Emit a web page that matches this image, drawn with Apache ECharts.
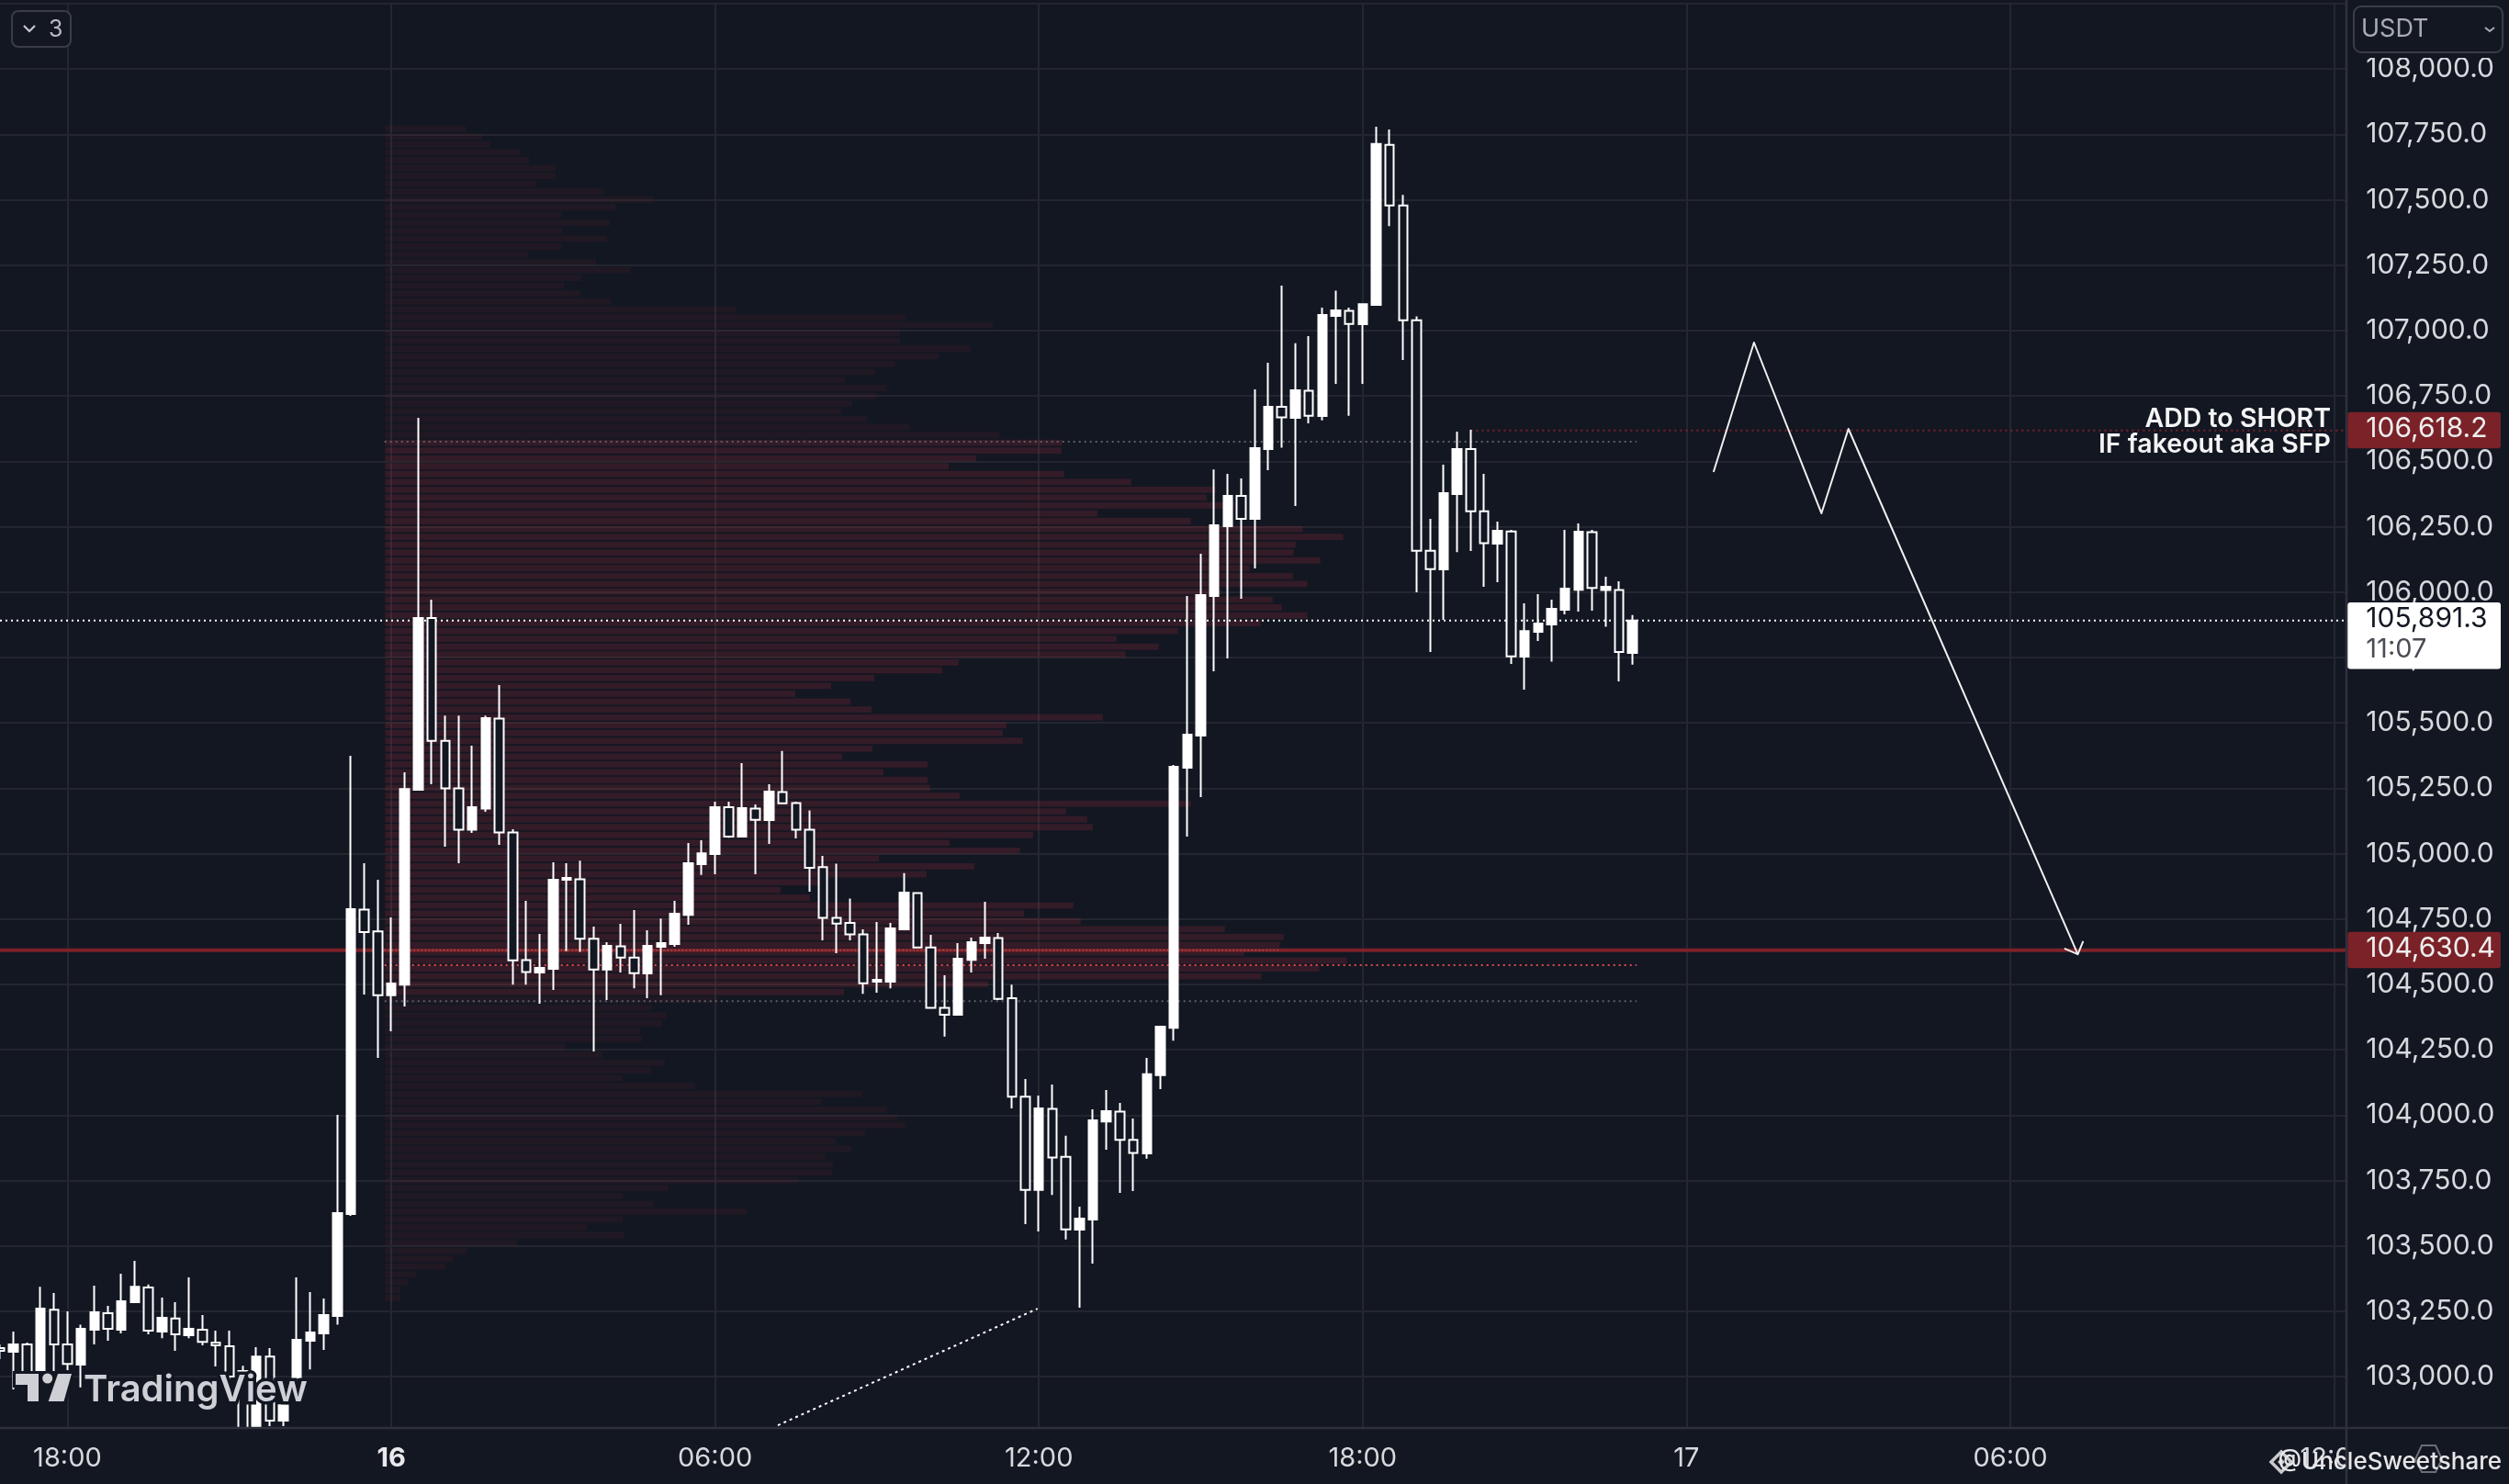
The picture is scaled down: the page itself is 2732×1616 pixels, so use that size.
<!DOCTYPE html>
<html><head><meta charset="utf-8"><title>BTCUSDT</title>
<style>html,body{margin:0;padding:0;background:#131722}#c{width:2732px;height:1616px}</style>
<script src="https://cdn.jsdelivr.net/npm/echarts@6/dist/echarts.min.js"></script>
</head><body><div id="c"></div>
<script>
const openPrice=[103109,103095,103123,103025,103256,103123,103046,103179,103243,103179,103285,103341,103172,103222,103158,103179,103130,103116,103021,102793,103077,102832,102997,103137,103165,103232,103622,104786,104702,104458,104499,105244,105901,105431,105249,105091,105172,105516,105081,104593,104545,104559,104907,104902,104674,104557,104645,104602,104542,104644,104654,104766,104960,104998,105177,105065,105172,105128,105235,105193,105091,104948,104754,104735,104691,104517,104510,104710,104849,104641,104410,104384,104594,104658,104677,104447,104070,103714,104024,103840,103562,103601,103976,104013,103905,103854,104153,104334,105328,105451,105985,106252,106368,106280,106547,106708,106666,106770,106673,107056,107075,107024,107098,107710,107478,107039,106158,106087,106375,106547,106309,106185,106232,105753,105848,105876,105932,106009,106229,106008,106008,105767];
const closePrice=[103099,103123,103018,103260,103123,103049,103183,103246,103183,103288,103344,103176,103225,103162,103183,103133,103120,103000,102779,103077,102832,102891,103141,103169,103236,103625,104788,104700,104458,104503,105247,105901,105431,105249,105091,105177,105518,105081,104592,104547,104563,104900,104900,104674,104557,104647,104602,104543,104647,104658,104770,104963,105001,105177,105065,105174,105129,105237,105192,105091,104946,104754,104732,104691,104504,104510,104714,104851,104641,104410,104384,104598,104661,104679,104444,104070,103714,104026,103838,103563,103604,103980,104015,103905,103855,104156,104338,105332,105455,105988,106255,106368,106280,106550,106708,106668,106771,106674,107059,107077,107025,107101,107713,107478,107039,106158,106088,106378,106547,106309,106187,106234,105754,105851,105880,105936,106013,106231,106016,106020,105771,105891.3];
const lowPrice=[103067,102951,103007,103007,103014,103025,102959,103123,103137,103165,103285,103162,103147,103099,103147,103120,103039,102989,102751,102779,102811,102811,102986,103028,103102,103199,103615,104461,104219,104321,104415,105244,105265,105026,104963,105079,105160,105033,104499,104499,104426,104479,104627,104624,104243,104440,104545,104485,104447,104458,104644,104728,104918,104921,105061,105065,104921,105037,105191,105058,104854,104668,104619,104668,104464,104468,104485,104710,104640,104410,104300,104384,104545,104598,104440,104026,103583,103555,103695,103524,103264,103432,103868,103703,103710,103833,104099,104285,105065,105216,105697,105746,105974,106090,106466,106552,106329,106645,106656,106796,106674,106796,107098,107399,106887,105999,105771,105894,106153,106157,106020,106038,105725,105627,105813,105734,105915,105925,105929,105867,105658,105722];
const highPrice=[103123,103172,103130,103344,103320,103250,103199,103348,103271,103394,103443,103352,103302,103285,103380,103236,103176,103176,103042,103113,103109,102916,103380,103323,103299,104001,105374,104963,104900,104756,105311,106666,105971,105528,105528,105413,105528,105644,105093,104819,104693,104967,104963,104973,104721,104661,104731,104784,104707,104752,104819,105040,105051,105198,105198,105346,105188,105265,105392,105198,105165,104991,104961,104828,104710,104738,104735,104925,104851,104689,104535,104658,104679,104816,104696,104499,104138,104075,104117,103921,103650,104022,104096,104047,103987,104219,104338,105339,105985,106146,106469,106452,106434,106775,106877,107172,106951,106979,107087,107152,107087,107101,107779,107769,107518,107054,106280,106487,106613,106620,106452,106269,106238,105957,105992,105971,106238,106262,106238,106059,106041,105912];

// volume profile, top row first
const profileVolume=[88,106,115,148,157,186,186,164,238,292,251,192,245,193,242,192,156,230,267,214,195,213,246,382,567,662,561,561,638,603,556,534,501,546,535,509,497,525,572,669,738,737,644,614,740,813,905,895,925,776,878,1000,1044,992,990,1019,942,989,1005,911,967,977,1005,954,864,797,843,807,625,607,533,486,447,507,530,782,677,673,695,531,498,591,543,591,594,626,878,742,765,771,706,615,692,538,642,590,482,431,463,750,696,758,915,979,975,936,1048,1018,955,657,500,362,291,307,302,278,280,196,237,305,290,259,338,520,476,546,558,567,523,491,508,480,488,487,450,309,260,293,394,259,220,261,144,89,75,66,34,25,17,17];
const profileTopPrice=107771, profileBin=30, valueAreaFirstRow=40, valueAreaLastRow=110;

const slotCount=175;
const timeTicks={5:'18:00',29:'16',53:'06:00',77:'12:00',101:'18:00',125:'17',149:'06:00',173:'12:00'};
const boldTicks=['16'];
const priceMin=102750, priceMax=108250, priceStep=250;

const lastPrice=105891.3, sfpPrice=106618.2, targetPrice=104630.4;
const vahPrice=106575, pocPrice=104573, valPrice=104436;
const diagonalLine=[[57.65,102814],[76.9,103260]];
const projectionPath=[[127,106459],[130,106954],[135,106301],[137,106624],[154,104615]];
const arrowHead=[[153,104637],[154,104615],[154.4,104665]];
const bg='#131722', red='#7a2228', txt='#d8d9dd', FONT='Inter, "Noto Sans", sans-serif';

const categories=Array.from({length:slotCount},(_,i)=>String(i));
const candleData=openPrice.map((o,i)=>[o,closePrice[i],lowPrice[i],highPrice[i]]);
const profileData=profileVolume.map((v,i)=>[v,profileTopPrice-i*profileBin,(i>=valueAreaFirstRow&&i<=valueAreaLastRow)?1:0]);

function hLine(name,from,to,price,color,width,type){
  return {name,type:'line',xAxisIndex:1,yAxisIndex:0,z:2,silent:true,symbol:'none',animation:false,
    data:[[from,price],[to,price]],lineStyle:{color,width,type}};
}
function path(name,data,color,width,type){
  return {name,type:'line',xAxisIndex:1,yAxisIndex:0,z:4,silent:true,symbol:'none',animation:false,
    data,lineStyle:{color,width,type,join:'round'}};
}

// price tags: [slot, price, tag height, fill, text colour, label, second label]
const priceTags=[
  [174,sfpPrice,40,'#7a2228','#eeeeee','106,618.2',''],
  [174,targetPrice,40,'#7a2228','#eeeeee','104,630.4',''],
  [174,lastPrice,0,'#ffffff','#131722','105,891.3','11:07']
];

const option={
  animation:false,backgroundColor:bg,
  grid:{left:-1.5,top:3.9,width:2557.8,height:1566.4,containLabel:false},
  xAxis:[
    {type:'category',boundaryGap:false,data:categories,position:'bottom',z:0,
      axisLine:{show:false},axisTick:{show:false},axisLabel:{show:false},
      splitLine:{show:true,interval:(i)=>timeTicks[i]!==undefined,lineStyle:{color:'#242731',width:2}}},
    {type:'value',min:0,max:slotCount-1,show:false,splitLine:{show:false}},
    {type:'value',min:-419.5,max:2138.3,show:false,splitLine:{show:false}},
    {type:'category',boundaryGap:false,data:categories,position:'bottom',z:6,
      axisLine:{show:false},axisTick:{show:false},splitLine:{show:false},
      axisLabel:{show:true,interval:(i)=>timeTicks[i]!==undefined,margin:3,color:txt,fontFamily:FONT,fontSize:29,
        formatter:(v)=>{const t=timeTicks[v];return boldTicks.includes(t)?'{b|'+t+'}':(t||'');},
        rich:{b:{fontWeight:700,color:'#e8e9ec',fontFamily:FONT,fontSize:29}}}}
  ],
  yAxis:[
    {type:'value',min:priceMin,max:priceMax,interval:priceStep,position:'right',z:0,
      axisLine:{show:false},axisTick:{show:false},axisLabel:{show:false},
      splitLine:{show:true,lineStyle:{color:'#23262f',width:2}}},
    {type:'value',min:priceMin,max:priceMax,interval:priceStep,position:'right',z:8,
      axisLine:{show:false},axisTick:{show:false},splitLine:{show:false},
      axisLabel:{show:true,margin:20,color:txt,fontFamily:FONT,fontSize:30,showMinLabel:false,showMaxLabel:false,
        padding:[0,0,5,0],
        formatter:(v)=>v.toLocaleString('en-US',{minimumFractionDigits:1,maximumFractionDigits:1})}}
  ],
  series:[
    {name:'Volume profile',type:'custom',xAxisIndex:2,yAxisIndex:0,z:1,silent:true,clip:true,data:profileData,
      renderItem:(p,api)=>{
        const a=api.coord([0,api.value(1)]),b=api.coord([api.value(0),api.value(1)]);
        const h=api.size([0,profileBin])[1]*0.8;
        return {type:'rect',shape:{x:a[0],y:a[1]-h/2,width:b[0]-a[0],height:h},
          style:{fill:api.value(2)?'rgba(170,45,60,0.22)':'rgba(170,45,60,0.09)'}};
      }},
    hLine('Last price',0,174,lastPrice,'#ffffff',2,[2,4]),
    hLine('Target',0,174,targetPrice,red,4,'solid'),
    hLine('Target fine',28.5,94.8,targetPrice,'#c98a8e',1,[1,3]),
    hLine('SFP level',109,174,sfpPrice,'#7a2228',2,[2,4]),
    hLine('VAH',28.5,121.3,vahPrice,'#5c5f68',2,[2,4]),
    hLine('VAL',28.5,121.3,valPrice,'#5c5f68',2,[2,4]),
    hLine('POC',28.5,121.3,pocPrice,'#e2474c',2,[2,4]),
    path('Diagonal',diagonalLine,'#ffffff',2,[3,4]),
    {name:'Price',type:'candlestick',xAxisIndex:0,yAxisIndex:0,z:3,barWidth:10,silent:true,data:candleData,
      itemStyle:{color:'#ffffff',color0:bg,borderColor:'#ffffff',borderColor0:'#ffffff',borderWidth:2}},
    path('Projection',projectionPath,'#f0f0f0',2,'solid'),
    path('Arrow head',arrowHead,'#f0f0f0',2,'solid'),
    {name:'Price tags',type:'custom',xAxisIndex:1,yAxisIndex:0,z:10,clip:false,silent:true,data:priceTags,
      renderItem:(p,api)=>{
        const row=priceTags[p.dataIndex];
        const c=api.coord([row[0],row[1]]);
        const twoLine=row[6]!=='';
        const top=twoLine?c[1]-19.7:c[1]-20;
        const h=twoLine?72.5:39.6;
        const kids=[{type:'rect',shape:{x:c[0],y:top,width:166.7,height:h,r:3},style:{fill:row[3]}},
          {type:'text',style:{x:c[0]+20,y:twoLine?top+18:top+18.5,text:row[5],fill:row[4],font:'30px '+FONT,verticalAlign:'middle'}}];
        if(twoLine)kids.push({type:'text',style:{x:c[0]+20,y:top+51,text:row[6],fill:'#4a4d55',font:'29px '+FONT,verticalAlign:'middle'}});
        return {type:'group',children:kids};
      }}
  ],
  graphic:{elements:[
    {type:'rect',z:5,silent:true,shape:{x:0,y:1555,width:2732,height:61},style:{fill:bg}},
    {type:'line',z:5,silent:true,shape:{x1:0,y1:1555,x2:2732,y2:1555},style:{stroke:'#2e313c',lineWidth:2.5}},
    {type:'rect',z:7,silent:true,shape:{x:2556,y:1556.5,width:176,height:60},style:{fill:bg}},
    {type:'rect',z:9,silent:true,shape:{x:2556,y:0,width:176,height:63},style:{fill:bg}},
    {type:'line',z:9,silent:true,shape:{x1:2555,y1:0,x2:2555,y2:1616},style:{stroke:'#2e313c',lineWidth:2.5}},
    // USDT selector
    {type:'rect',z:11,silent:true,shape:{x:2563,y:7,width:162,height:50,r:8},style:{fill:bg,stroke:'#3a3d48',lineWidth:2}},
    {type:'text',z:12,silent:true,style:{x:2571,y:32,text:'USDT',fill:'#a9acb5',font:'27px '+FONT,verticalAlign:'middle'}},
    {type:'polyline',z:12,silent:true,shape:{points:[[2706,30],[2711,34],[2716,30]]},style:{stroke:'#a9acb5',lineWidth:2,fill:'none'}},
    // indicator badge
    {type:'rect',z:11,silent:true,shape:{x:13,y:12,width:64,height:39,r:7},style:{fill:bg,stroke:'#3a3d48',lineWidth:2}},
    {type:'polyline',z:12,silent:true,shape:{points:[[26,28],[32,34],[38,28]]},style:{stroke:'#c8cad0',lineWidth:2.2,fill:'none'}},
    {type:'text',z:12,silent:true,style:{x:53,y:32,text:'3',fill:'#b8bac2',font:'25px '+FONT,verticalAlign:'middle'}},
    // annotation text
    {type:'text',z:10,silent:true,style:{x:2538,y:456,text:'ADD to SHORT',fill:'#f4f4f5',font:'600 28.5px '+FONT,align:'right',verticalAlign:'middle'}},
    {type:'text',z:10,silent:true,style:{x:2538,y:484,text:'IF fakeout aka SFP',fill:'#f4f4f5',font:'600 28.5px '+FONT,align:'right',verticalAlign:'middle'}},
    // TradingView logo
    {type:'text',z:11,silent:true,style:{x:91,y:1514,text:'TradingView',fill:bg,stroke:bg,lineWidth:7,font:'600 40px '+FONT,verticalAlign:'middle'}},
    {type:'text',z:12,silent:true,style:{x:91,y:1514,text:'TradingView',fill:'#cfd0d6',font:'600 40px '+FONT,verticalAlign:'middle'}},
    {type:'polygon',z:11,silent:true,shape:{points:[[14,1493],[81,1493],[72,1529],[27,1529],[27,1511],[14,1511]]},style:{fill:bg}},
    {type:'polygon',z:12,silent:true,shape:{points:[[17,1496],[42,1496],[42,1526],[30,1526],[30,1508],[17,1508]]},style:{fill:'#cfd0d6'}},
    {type:'circle',z:12,silent:true,shape:{cx:51.7,cy:1501,r:5.5},style:{fill:'#cfd0d6'}},
    {type:'polygon',z:12,silent:true,shape:{points:[[63,1496],[78,1496],[69.5,1526],[52.7,1526]]},style:{fill:'#cfd0d6'}},
    // gear + binance marks + watermark
    {type:'polygon',z:12,silent:true,shape:{points:[[2637,1574],[2652,1574],[2659,1589],[2652,1603],[2637,1603],[2630,1589]]},style:{fill:'none',stroke:'#6b6e76',lineWidth:2}},
    {type:'polygon',z:13,silent:true,shape:{points:[[2484,1581],[2495,1592],[2484,1603],[2473,1592]]},style:{fill:'none',stroke:'#c9cacc',lineWidth:3.5}},
    {type:'polygon',z:13,silent:true,shape:{points:[[2484,1588],[2488,1592],[2484,1596],[2480,1592]]},style:{fill:'#c9cacc'}},
    {type:'text',z:13,silent:true,style:{x:2724,y:1592,text:'@UncleSweetshare',fill:'#e6e6e8',font:'500 26px '+FONT,align:'right',verticalAlign:'middle'}}
  ]}
};
const chart=echarts.init(document.getElementById('c'),null,{renderer:'canvas',width:2732,height:1616});
chart.setOption(option);
</script></body></html>
